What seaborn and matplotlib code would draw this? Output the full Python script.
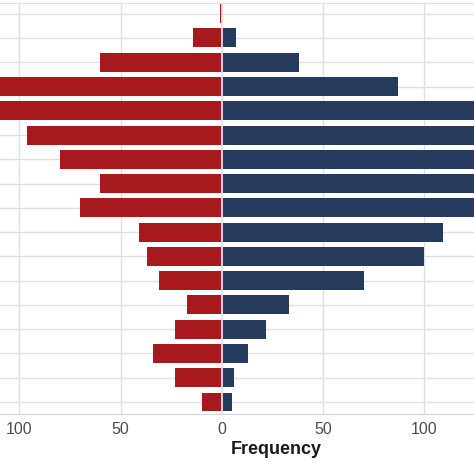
import pandas as pd
import matplotlib.pyplot as plt
import seaborn as sns
from matplotlib.ticker import FuncFormatter

# categories top -> bottom (their labels fall left of the cropped picture)
groups = ['G01', 'G02', 'G03', 'G04', 'G05', 'G06', 'G07', 'G08', 'G09',
          'G10', 'G11', 'G12', 'G13', 'G14', 'G15', 'G16', 'G17']
# left (red) series and right (blue) series, frequencies
red_vals = [1, 14, 60, 118, 125, 96, 80, 60, 70, 41, 37, 31, 17, 23, 34, 23, 10]
blue_vals = [0, 7, 38, 87, 150, 145, 140, 135, 130, 109, 100, 70, 33, 22, 13, 6, 5]
series = ['Red', 'Blue']
colors = ['#a8191e', '#263a5e']
x_ticks = [-100, -50, 0, 50, 100]

df = pd.DataFrame({
    'group': groups * 2,
    'value': [-v for v in red_vals] + blue_vals,
    'series': [series[0]] * len(groups) + [series[1]] * len(groups),
})

sns.set_style('white')
plt.rcParams['font.family'] = ['Liberation Sans', 'DejaVu Sans']

fig = plt.figure(figsize=(4.74, 4.74), dpi=100)
# panel runs past the image edges, like the cropped original
ax = fig.add_axes([0, 1 - 413.5 / 474, 1, (413.5 - 2.7) / 474])

sns.barplot(data=df, y='group', x='value', hue='series', dodge=False,
            palette=colors, saturation=1, width=0.78, orient='h', ax=ax,
            legend=False, linewidth=0)

ax.set_xlim(-109.5, 124.5)
ax.set_ylim(16.474, -0.453)
ax.set_xticks(x_ticks)
ax.xaxis.set_major_formatter(FuncFormatter(lambda v, p: f'{abs(v):.0f}'))

ax.set_axisbelow(True)
ax.grid(True, color='#e0e0e0', lw=1)
ax.axvline(0, color='#eadfe6', lw=1.3, zorder=4)

for s in ['left', 'right']:
    ax.spines[s].set_visible(False)
ax.spines['top'].set_color('#e0e0e0')
ax.spines['bottom'].set_color('#d2d2d2')

ax.tick_params(axis='x', length=0, pad=6, labelsize=11.5, labelcolor='#4d4d4d')
ax.tick_params(axis='y', length=0, labelsize=11.5, labelcolor='#4d4d4d')
ax.set_ylabel('')
ax.set_xlabel('Frequency', fontsize=13, fontweight='bold', color='#1a1a1a', va='center')
ax.xaxis.set_label_coords(276 / 474, -(450 - 413.5) / 410.8)

fig.savefig('out.png', dpi=100)
